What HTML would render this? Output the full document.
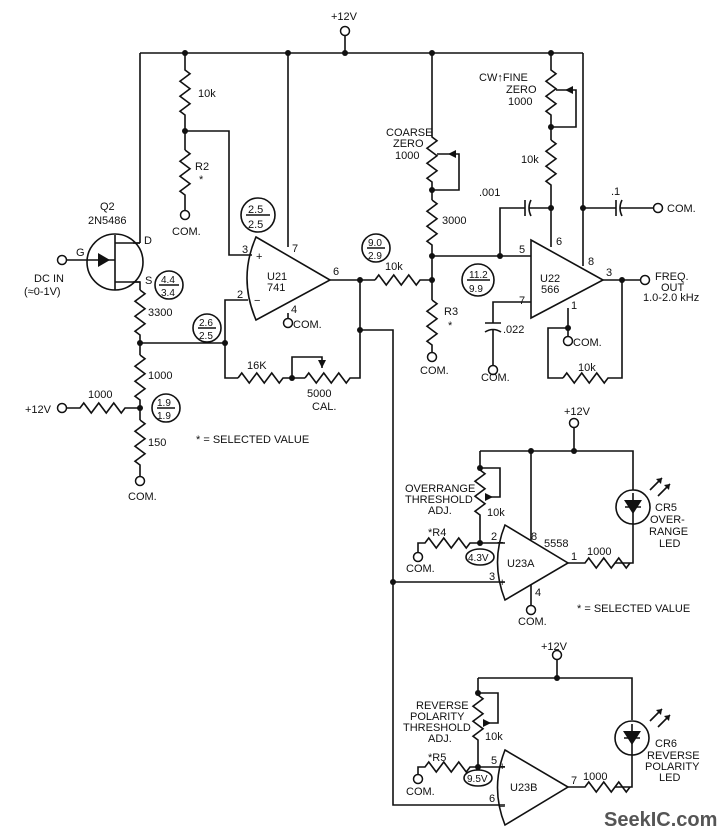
<!DOCTYPE html>
<html><head><style>
body{margin:0;background:#fff}
svg{display:block}
text{font-family:"Liberation Sans",sans-serif;font-size:11px;fill:#111}
text.s{font-size:10px}
text.wm{font-size:20px;font-weight:bold;fill:#555}
</style></head><body>
<svg width="721" height="834" viewBox="0 0 721 834" xmlns="http://www.w3.org/2000/svg">
<g stroke="#111" stroke-width="1.6" fill="none">
<path d="M140 53 H583 M345 35 V53"/>
<path d="M140 53 V243 M133 243 H140 M133 282 H140 V290"/>
<path d="M140 290 l5 3.75 l-10 7.5 l10 7.5 l-10 7.5 l10 7.5 l-10 7.5 l5 3.75 V355"/>
<path d="M140 355 l5 3.75 l-10 7.5 l10 7.5 l-10 7.5 l10 7.5 l-10 7.5 l5 3.75 V420"/>
<path d="M140 420 l5 3.75 l-10 7.5 l10 7.5 l-10 7.5 l10 7.5 l-10 7.5 l5 3.75 V476"/>
<path d="M67 408 H80 l3.75 -5 l7.5 10 l7.5 -10 l7.5 10 l7.5 -10 l7.5 10 l3.75 -5 H140"/>
<circle cx="115" cy="262" r="28"/>
<path d="M115 235 V290 M115 243 H140 M115 282 H140 M67 260 H115"/>
<path d="M140 343 H225 V300 H248 M225 343 V378 H238"/>
<path d="M238 378 l3.75 -5 l7.5 10 l7.5 -10 l7.5 10 l7.5 -10 l7.5 10 l3.75 -5 H305"/>
<path d="M305 378 l3.75 -5 l7.5 10 l7.5 -10 l7.5 10 l7.5 -10 l7.5 10 l3.75 -5 H360 V280"/>
<path d="M292 378 V357 H322 V368"/>
<path d="M185 53 V70 l5 3.75 l-10 7.5 l10 7.5 l-10 7.5 l10 7.5 l-10 7.5 l5 3.75 V150"/>
<path d="M185 150 l5 3.75 l-10 7.5 l10 7.5 l-10 7.5 l10 7.5 l-10 7.5 l5 3.75 V210"/>
<path d="M185 131 H229 V255 H252"/>
<path d="M256 237 L330 280 L256 320 Q238 278 256 237 Z"/>
<path d="M288 53 V247 M288 313 V318 M330 280 H375"/>
<path d="M375 280 l3.75 -5 l7.5 10 l7.5 -10 l7.5 10 l7.5 -10 l7.5 10 l3.75 -5 H432"/>
<path d="M360 330 H393 V805 H505 M393 582 H505"/>
<path d="M432 53 V137 l5 3.75 l-10 7.5 l10 7.5 l-10 7.5 l10 7.5 l-10 7.5 l5 3.75 V200"/>
<path d="M432 200 l5 3.75 l-10 7.5 l10 7.5 l-10 7.5 l10 7.5 l-10 7.5 l5 3.75 V300"/>
<path d="M432 300 l5 3.75 l-10 7.5 l10 7.5 l-10 7.5 l10 7.5 l-10 7.5 l5 3.75 V352"/>
<path d="M437 154 H459 V190 H432"/>
<path d="M432 256 H531"/>
<path d="M500 256 V208 H525 M525 200 V216 M531 200 Q527 208 531 216 M529 208 H551"/>
<path d="M551 53 V70 l5 3.75 l-10 7.5 l10 7.5 l-10 7.5 l10 7.5 l-10 7.5 l5 3.75 V140"/>
<path d="M551 140 l5 3.75 l-10 7.5 l10 7.5 l-10 7.5 l10 7.5 l-10 7.5 l5 3.75 V247"/>
<path d="M556 90 H576 V127 H551"/>
<path d="M531 240 L603 280 L531 318 Z"/>
<path d="M583 53 V266 M583 208 H616 M616 200 V216 M622 200 Q618 208 622 216 M620 208 H653"/>
<path d="M531 302 H493 V323 M485 323 H501 M485 332 Q493 327 501 332 M493 330 V365"/>
<path d="M568 308 V336 M568 328 H548 V378 H563"/>
<path d="M563 378 l3.75 -5 l7.5 10 l7.5 -10 l7.5 10 l7.5 -10 l7.5 10 l3.75 -5 H622 V280 M603 280 H640"/>
<path d="M574 428 V451 M480 451 H633 V490 M633 524 V563 H615"/>
<path d="M480 451 V470 l5 3.75 l-10 7.5 l10 7.5 l-10 7.5 l10 7.5 l-10 7.5 l5 3.75 V543"/>
<path d="M480 468 H500 V497 H485"/>
<path d="M418 552 V543 H425 l3.75 -5 l7.5 10 l7.5 -10 l7.5 10 l7.5 -10 l7.5 10 l3.75 -5 H505"/>
<path d="M505 525 L568 563 L505 600 Q490 562 505 525 Z"/>
<path d="M531 451 V540 M531 585 V605"/>
<path d="M568 563 H585 l3.75 -5 l7.5 10 l7.5 -10 l7.5 10 l7.5 -10 l7.5 10 l3.75 -5"/>
<circle cx="633" cy="507" r="17"/>
<path d="M625 507 H641 M633 493 V524"/>
<path d="M557 660 V678 M478 678 H632 V720 M632 755 V787 H615"/>
<path d="M478 678 V695 l5 3.75 l-10 7.5 l10 7.5 l-10 7.5 l10 7.5 l-10 7.5 l5 3.75 V767"/>
<path d="M478 693 H498 V723 H483"/>
<path d="M418 775 V767 H425 l3.75 -5 l7.5 10 l7.5 -10 l7.5 10 l7.5 -10 l7.5 10 l3.75 -5 H505"/>
<path d="M505 750 L568 787 L505 825 Q490 788 505 750 Z"/>
<path d="M568 787 H585 l3.75 -5 l7.5 10 l7.5 -10 l7.5 10 l7.5 -10 l7.5 10 l3.75 -5"/>
<circle cx="632" cy="738" r="17"/>
<path d="M624 738 H640 M632 724 V755"/>
<path d="M650 490 L662 478 M658 496 L670 484 M650 721 L662 709 M658 727 L670 715"/>
<circle cx="258" cy="215" r="17"/><circle cx="169" cy="285" r="14"/><circle cx="207" cy="328" r="14"/>
<circle cx="166" cy="408" r="14"/><circle cx="376" cy="248" r="14"/><circle cx="478" cy="280" r="16"/>
<ellipse cx="480" cy="557" rx="14" ry="8"/><ellipse cx="478" cy="778" rx="14" ry="8"/>
<path d="M246 215 H270 M159 285 H179 M198 328 H216 M157 408 H175 M367 248 H385 M467 280 H490"/>
</g>
<g fill="#111">
<path d="M98 253 L110 260 L98 267 Z"/>
<path d="M318 360 L322 368 L326 360 Z M456 150 L448 154 L456 158 Z M573 86 L565 90 L573 94 Z M485 493 L493 497 L485 501 Z M483 719 L491 723 L483 727 Z"/>
<path d="M624 500 L642 500 L633 514 Z M623 731 L641 731 L632 745 Z"/>
<path d="M662 478 l-6 1 l5 5 Z M670 484 l-6 1 l5 5 Z M662 709 l-6 1 l5 5 Z M670 715 l-6 1 l5 5 Z"/>
<circle cx="185" cy="53" r="3"/><circle cx="288" cy="53" r="3"/><circle cx="345" cy="53" r="3"/><circle cx="432" cy="53" r="3"/><circle cx="551" cy="53" r="3"/>
<circle cx="185" cy="131" r="3"/><circle cx="140" cy="343" r="3"/><circle cx="225" cy="343" r="3"/><circle cx="140" cy="408" r="3"/>
<circle cx="292" cy="378" r="3"/><circle cx="360" cy="280" r="3"/><circle cx="360" cy="330" r="3"/><circle cx="432" cy="190" r="3"/>
<circle cx="432" cy="256" r="3"/><circle cx="432" cy="280" r="3"/><circle cx="500" cy="256" r="3"/><circle cx="551" cy="127" r="3"/>
<circle cx="551" cy="208" r="3"/><circle cx="583" cy="208" r="3"/><circle cx="568" cy="328" r="3"/><circle cx="622" cy="280" r="3"/>
<circle cx="531" cy="451" r="3"/><circle cx="574" cy="451" r="3"/><circle cx="480" cy="468" r="3"/><circle cx="480" cy="543" r="3"/><circle cx="393" cy="582" r="3"/>
<circle cx="557" cy="678" r="3"/><circle cx="478" cy="693" r="3"/><circle cx="478" cy="767" r="3"/>
</g>
<g stroke="#111" stroke-width="1.5" fill="#fff">
<circle cx="345" cy="31" r="4.5"/><circle cx="62" cy="260" r="4.5"/><circle cx="62" cy="408" r="4.5"/><circle cx="140" cy="481" r="4.5"/>
<circle cx="185" cy="215" r="4.5"/><circle cx="288" cy="323" r="4.5"/><circle cx="432" cy="357" r="4.5"/><circle cx="493" cy="370" r="4.5"/>
<circle cx="568" cy="341" r="4.5"/><circle cx="658" cy="208" r="4.5"/><circle cx="645" cy="280" r="4.5"/>
<circle cx="574" cy="423" r="4.5"/><circle cx="418" cy="557" r="4.5"/><circle cx="531" cy="610" r="4.5"/>
<circle cx="557" cy="655" r="4.5"/><circle cx="418" cy="779" r="4.5"/>
</g>
<g>
<text x="331" y="20">+12V</text>
<text x="198" y="97">10k</text><text x="195" y="170">R2</text><text x="199" y="183">*</text><text x="172" y="235">COM.</text>
<text x="100" y="210">Q2</text><text x="88" y="224">2N5486</text><text x="144" y="244">D</text><text x="145" y="284">S</text><text x="76" y="256">G</text>
<text x="34" y="282">DC IN</text><text x="24" y="295">(≈0-1V)</text>
<text x="148" y="316">3300</text><text x="148" y="379">1000</text><text x="88" y="398">1000</text><text x="25" y="413">+12V</text><text x="148" y="446">150</text><text x="128" y="500">COM.</text>
<text x="196" y="443">* = SELECTED VALUE</text>
<text x="248" y="213">2.5</text><text x="248" y="228">2.5</text>
<text class="s" x="161" y="283">4.4</text><text class="s" x="161" y="296">3.4</text>
<text class="s" x="199" y="326">2.6</text><text class="s" x="199" y="339">2.5</text>
<text class="s" x="157" y="406">1.9</text><text class="s" x="157" y="419">1.9</text>
<text class="s" x="368" y="246">9.0</text><text class="s" x="368" y="259">2.9</text>
<text class="s" x="469" y="278">11.2</text><text class="s" x="469" y="292">9.9</text>
<text x="242" y="253">3</text><text x="256" y="260">+</text><text x="292" y="252">7</text><text x="237" y="298">2</text><text x="254" y="304">−</text>
<text x="267" y="280">U21</text><text x="267" y="291">741</text><text x="333" y="275">6</text><text x="291" y="313">4</text><text x="293" y="328">COM.</text>
<text x="247" y="369">16K</text><text x="307" y="397">5000</text><text x="312" y="410">CAL.</text>
<text x="385" y="270">10k</text>
<text x="386" y="136">COARSE</text><text x="393" y="147">ZERO</text><text x="395" y="159">1000</text>
<text x="442" y="224">3000</text><text x="444" y="315">R3</text><text x="448" y="329">*</text><text x="420" y="374">COM.</text>
<text x="479" y="196">.001</text><text x="503" y="333">.022</text><text x="481" y="381">COM.</text>
<text x="519" y="253">5</text><text x="556" y="245">6</text><text x="588" y="265">8</text><text x="519" y="304">7</text><text x="606" y="276">3</text><text x="571" y="309">1</text>
<text x="540" y="282">U22</text><text x="541" y="293">566</text>
<text x="573" y="346">COM.</text><text x="578" y="371">10k</text>
<text x="479" y="81">CW↑FINE</text><text x="506" y="93">ZERO</text><text x="508" y="105">1000</text>
<text x="521" y="163">10k</text><text x="611" y="195">.1</text><text x="667" y="212">COM.</text>
<text x="655" y="280">FREQ.</text><text x="661" y="291">OUT</text><text x="643" y="301">1.0-2.0 kHz</text>
<text x="564" y="415">+12V</text>
<text x="405" y="492">OVERRANGE</text><text x="405" y="503">THRESHOLD</text><text x="428" y="514">ADJ.</text><text x="487" y="516">10k</text>
<text x="428" y="536">*R4</text><text x="491" y="540">2</text><text x="497" y="546">−</text><text x="531" y="540">8</text><text x="544" y="547">5558</text>
<text class="s" x="468" y="561">4.3V</text><text x="406" y="572">COM.</text><text x="489" y="580">3</text><text x="499" y="586">+</text>
<text x="507" y="567">U23A</text><text x="571" y="560">1</text><text x="587" y="555">1000</text><text x="535" y="596">4</text><text x="518" y="625">COM.</text>
<text x="655" y="511">CR5</text><text x="650" y="523">OVER-</text><text x="649" y="535">RANGE</text><text x="659" y="547">LED</text>
<text x="577" y="612">* = SELECTED VALUE</text>
<text x="541" y="650">+12V</text>
<text x="416" y="709">REVERSE</text><text x="410" y="720">POLARITY</text><text x="403" y="731">THRESHOLD</text><text x="428" y="742">ADJ.</text><text x="485" y="740">10k</text>
<text x="428" y="761">*R5</text><text x="491" y="764">5</text><text x="499" y="770">+</text>
<text class="s" x="467" y="782">9.5V</text><text x="406" y="795">COM.</text><text x="489" y="802">6</text><text x="499" y="810">−</text>
<text x="510" y="791">U23B</text><text x="571" y="784">7</text><text x="583" y="780">1000</text>
<text x="655" y="747">CR6</text><text x="647" y="759">REVERSE</text><text x="645" y="770">POLARITY</text><text x="659" y="781">LED</text>
<text class="wm" x="604" y="826">SeekIC.com</text>
</g>
</svg>
</body></html>
